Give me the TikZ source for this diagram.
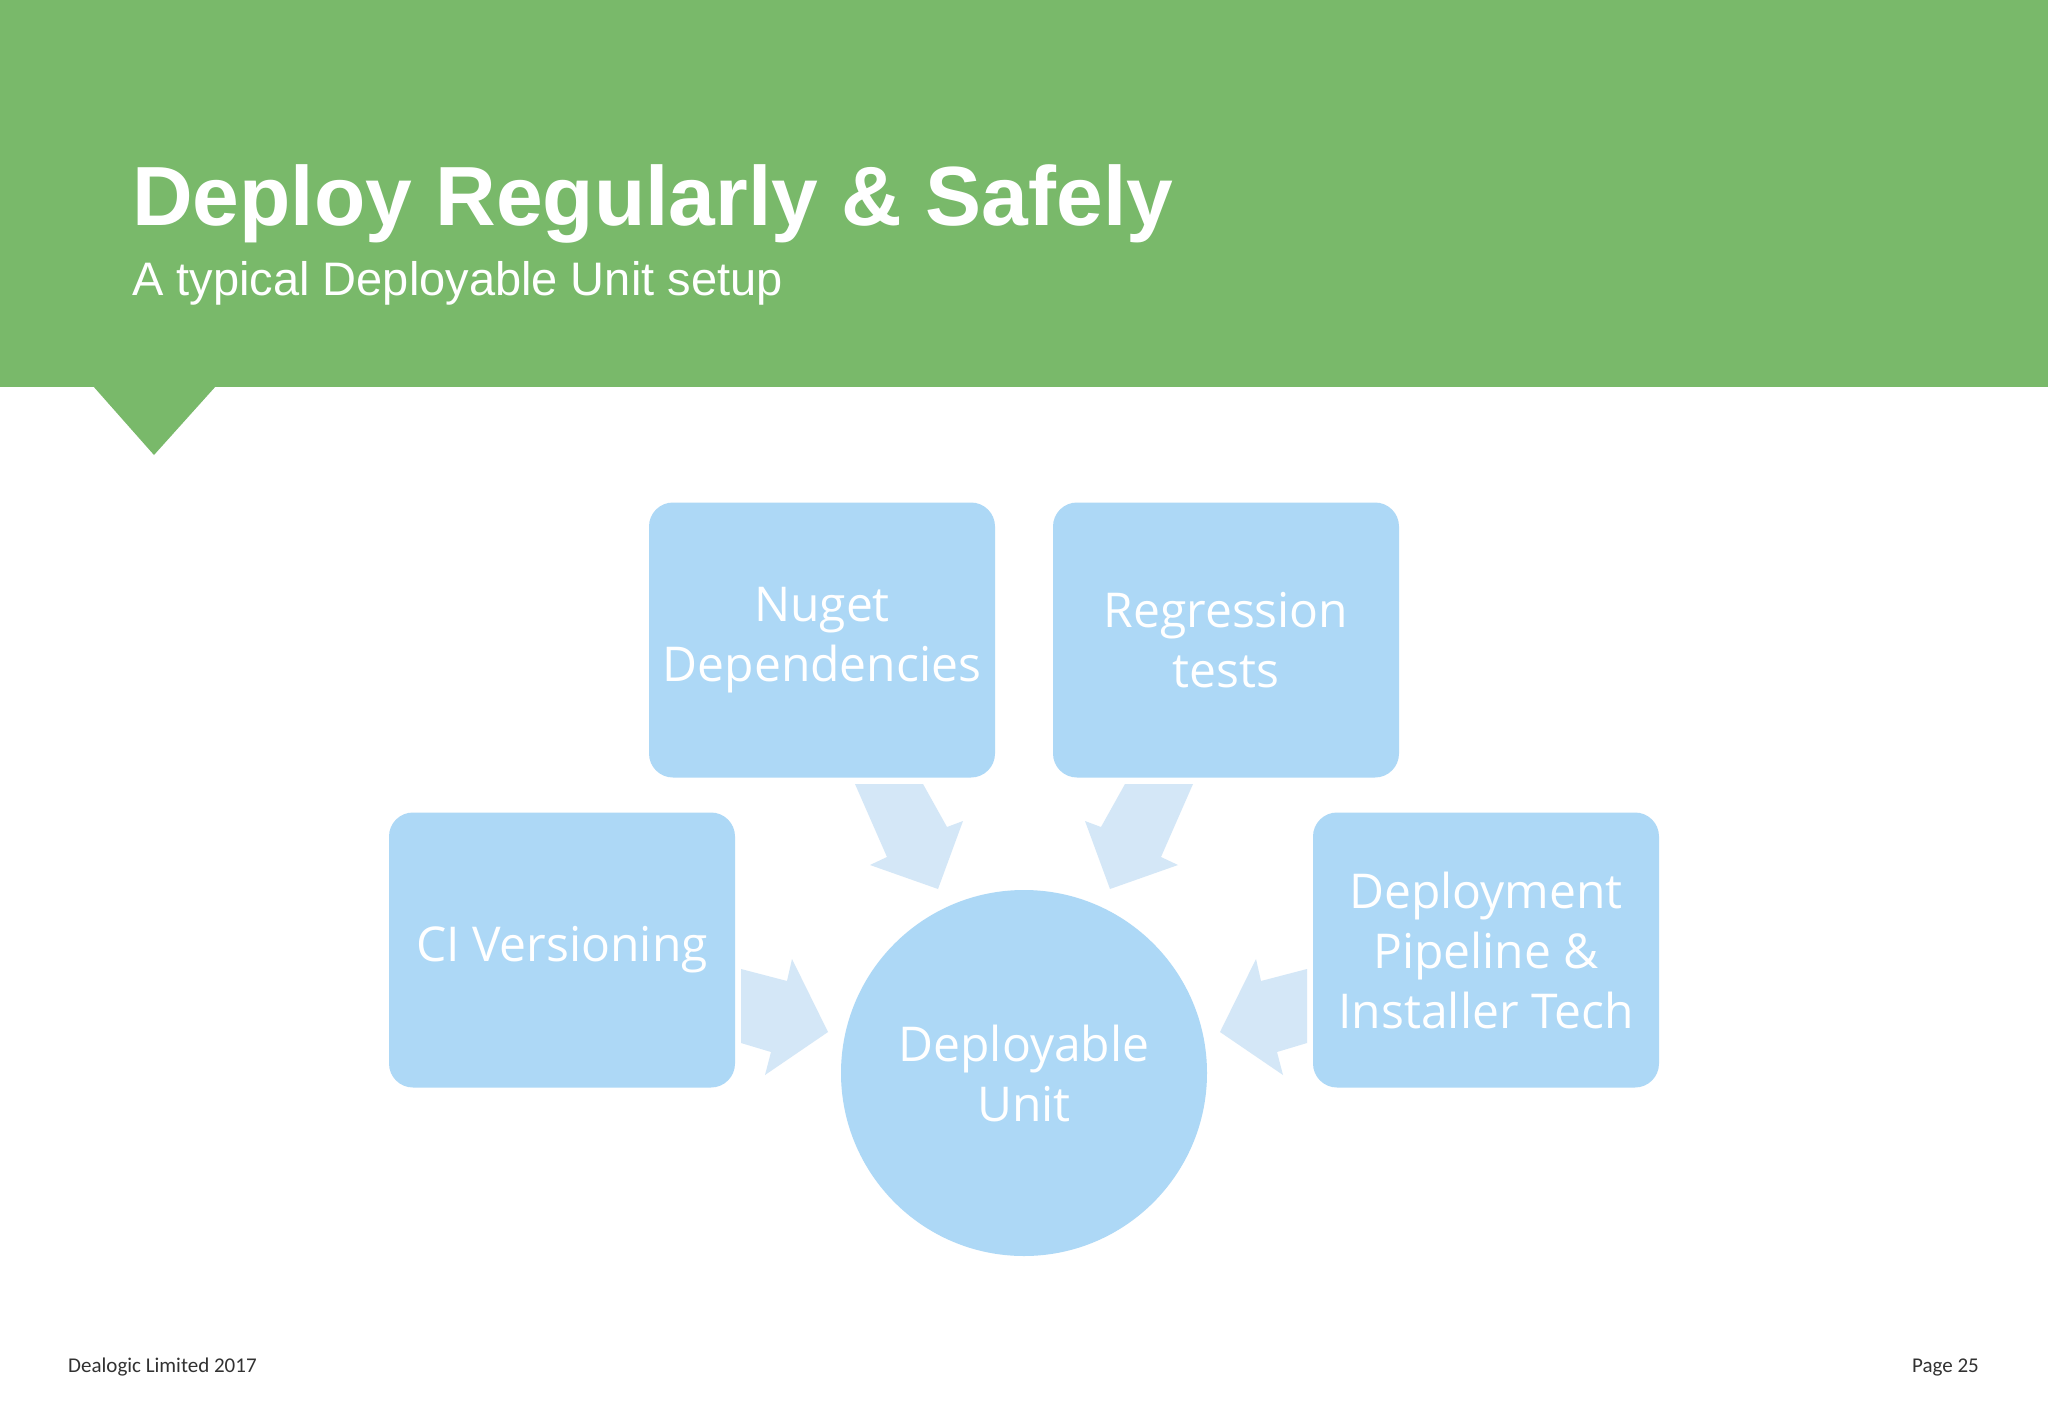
\documentclass[tikz,border=0pt]{standalone}
\usepackage{fontspec}
\setmainfont{Carlito}
\newfontfamily\headfont{Liberation Sans}
\newfontfamily\boxfont{Open Sans}
\usetikzlibrary{positioning}

\definecolor{bandgreen}{RGB}{121,185,106}
\definecolor{boxblue}{RGB}{173,216,246}
\definecolor{arrowblue}{RGB}{212,231,247}
\definecolor{footgray}{RGB}{50,50,50}

\begin{document}
\begin{tikzpicture}[x=1pt, y=-1pt,
  block/.style={fill=boxblue, rounded corners=24pt, minimum width=346pt,
    minimum height=275pt, inner sep=0pt, text=white, align=center,
    font=\boxfont\fontsize{48}{60}\selectfont},
  hub/.style={circle, fill=boxblue, minimum size=366pt, inner sep=0pt,
    text=white, align=center, font=\boxfont\fontsize{48}{60}\selectfont},
  fatarrow/.style={fill=arrowblue},
  foot/.style={inner sep=0pt, text=footgray, font=\fontsize{21}{25}\selectfont}]

\useasboundingbox (0,0) rectangle (2048,1418);
\fill[white] (0,0) rectangle (2048,1418);

%% header band
\fill[bandgreen] (0,0) rectangle (2048,387);
\fill[bandgreen] (93,386) -- (216,386) -- (154,455) -- cycle;
\node[anchor=base west, inner sep=0pt, text=white,
      font=\headfont\bfseries\fontsize{84}{100}\selectfont] (title) at (132,225)
      {Deploy Regularly \& Safely};
\node[anchor=base west, inner sep=0pt, text=white,
      font=\headfont\fontsize{47}{56}\selectfont] (subtitle) at (132,295)
      {A typical Deployable Unit setup};

%% boxes and hub
\node[block] (nuget) at (822,640)  {Nuget\\Dependencies};
\node[block] (regr)  at (1226,640) {Regression\\tests};
\node[block] (civer) at (562,950)  {CI Versioning};
\node[block] (pipe)  at (1486,950) {Deployment\\Pipeline \&\\Installer Tech};
\node[hub]   (unit)  at (1024,1073) {Deployable\\Unit};

%% converging arrows
\fill[fatarrow] (855,784) -- (923,784) -- (947,827) -- (963,821)
  -- (938,889) -- (870,865) -- (887,857) -- cycle;
\fill[fatarrow] (1193,784) -- (1125,784) -- (1101,827) -- (1085,821)
  -- (1110,889) -- (1178,865) -- (1161,857) -- cycle;
\fill[fatarrow] (741,969) -- (787,981) -- (792,959) -- (828,1032)
  -- (765,1075) -- (771,1052) -- (741,1043) -- cycle;
\fill[fatarrow] (1307,969) -- (1261,981) -- (1256,959) -- (1220,1032)
  -- (1283,1075) -- (1277,1052) -- (1307,1043) -- cycle;

%% footer
\node[foot, anchor=base west] (corp) at (68,1372) {Dealogic Limited 2017};
\node[foot, anchor=base east] (page) at (1979,1372) {Page 25};

\end{tikzpicture}
\end{document}
